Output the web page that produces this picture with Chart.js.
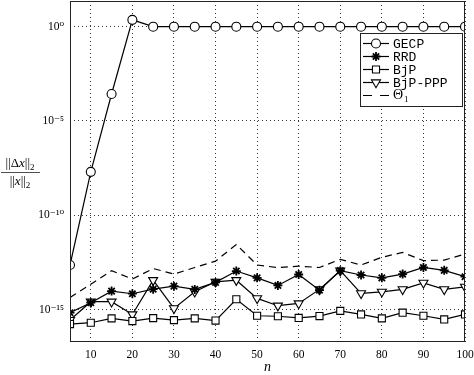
<!DOCTYPE html>
<html>
<head>
<meta charset="utf-8">
<script src="https://cdn.jsdelivr.net/npm/chart.js@4.4.1/dist/chart.umd.min.js"></script>
<style>
  html, body { margin: 0; padding: 0; background: #fff; }
  #wrap { width: 474px; height: 375px; }
</style>
</head>
<body>
<div id="wrap"><canvas id="chart" width="474" height="375"></canvas></div>
<script>
// matrix size n
const sizes = [5, 10, 15, 20, 25, 30, 35, 40, 45, 50, 55, 60, 65, 70, 75, 80, 85, 90, 95, 100];

// relative error ||dx||/||x|| per method
const gecp = [2.3e-13, 2.0e-8, 2.7e-4, 2.3, 1, 1, 1, 1, 1, 1, 1, 1, 1, 1, 1, 1, 1, 1, 1, 1];
const rrd = [6.8e-16, 2.3e-15, 9.5e-15, 6.9e-15, 1.2e-14, 1.74e-14, 1.17e-14, 2.75e-14, 1.1e-13, 4.8e-14,
             1.9e-14, 7.2e-14, 1.07e-14, 1.15e-13, 6.8e-14, 4.8e-14, 7.6e-14, 1.7e-13, 1.2e-13, 5.5e-14];
const bjp = [1.7e-16, 2.0e-16, 3.4e-16, 2.45e-16, 3.5e-16, 2.75e-16, 3.4e-16, 2.6e-16, 3.5e-15, 4.7e-16,
             4.4e-16, 3.6e-16, 4.5e-16, 8.5e-16, 5.5e-16, 3.4e-16, 6.8e-16, 4.7e-16, 3.0e-16, 5.5e-16];
const bjpPpp = [2.75e-16, 2.6e-15, 2.6e-15, 5.5e-16, 3.6e-14, 1.15e-15, 8.7e-15, 2.95e-14, 3.6e-14, 3.9e-15,
                1.6e-15, 2.1e-15, 1.17e-14, 1.15e-13, 7.2e-15, 8.7e-15, 1.17e-14, 2.6e-14, 1.17e-14, 1.6e-14];
const theta1 = [4.4e-15, 2.2e-14, 1.15e-13, 4.1e-14, 1.5e-13, 7.6e-14, 1.7e-13, 3.7e-13, 2.8e-12, 2.3e-13,
                1.66e-13, 2.0e-13, 1.7e-13, 4.6e-13, 2.3e-13, 5.9e-13, 1.07e-12, 3.9e-13, 4.2e-13, 8.7e-13];

const xTicks = [10, 20, 30, 40, 50, 60, 70, 80, 90, 100];
const yTicks = [1e-15, 1e-10, 1e-5, 1];
const yTickLabels = ['10\u207B\u00B9\u2075', '10\u207B\u00B9\u2070', '10\u207B\u2075', '10\u2070'];

const SERIF = '"Liberation Serif", "DejaVu Serif", serif';
const MONO = '"Liberation Mono", "DejaVu Sans Mono", monospace';

const pts = (arr) => sizes.map((n, i) => ({ x: n, y: arr[i] }));

function series(label, arr, style, radius, extra) {
    return Object.assign({
        label,
        data: pts(arr),
        borderColor: '#000',
        borderWidth: 1.2,
        pointStyle: style,
        pointRadius: radius,
        pointBorderColor: '#000',
        pointBackgroundColor: '#fff',
        pointBorderWidth: 1.1,
        tension: 0,
        fill: false
    }, extra || {});
}

// no extra room for the overflowing tick labels, the plot box is fixed
function noPad(s) {
    s.paddingTop = 0;
    s.paddingBottom = 0;
    s.paddingLeft = 0;
    s.paddingRight = 0;
}

// frame, y-axis fraction label, x title and legend box
const decor = {
    id: 'decor',
    afterDraw(chart) {
        const { ctx, chartArea: a } = chart;
        ctx.save();
        ctx.strokeStyle = '#222';
        ctx.lineWidth = 1;
        ctx.setLineDash([]);
        ctx.strokeRect(a.left + 0.5, a.top + 0.5, a.right - a.left - 1, a.bottom - a.top - 1);

        // x title
        ctx.fillStyle = '#000';
        ctx.font = 'italic 14px ' + SERIF;
        ctx.textAlign = 'center';
        ctx.textBaseline = 'middle';
        ctx.fillText('n', (a.left + a.right) / 2, 367);

        // y title as a fraction
        const cx = 20;
        const fontOf = (k) => k === 'i' ? 'italic 13px ' + SERIF : (k === 's' ? '9px ' + SERIF : '13px ' + SERIF);
        const drawParts = (parts, baseY) => {
            let w = 0;
            parts.forEach(p => { ctx.font = fontOf(p[1]); w += ctx.measureText(p[0]).width; });
            let x = cx - w / 2;
            ctx.textAlign = 'left';
            ctx.textBaseline = 'alphabetic';
            parts.forEach(p => {
                ctx.font = fontOf(p[1]);
                ctx.fillText(p[0], x, p[1] === 's' ? baseY + 3 : baseY);
                x += ctx.measureText(p[0]).width;
            });
        };
        drawParts([['||\u0394', 'n'], ['x', 'i'], ['||', 'n'], ['2', 's']], 167);
        ctx.beginPath();
        ctx.moveTo(1, 172.5);
        ctx.lineTo(40, 172.5);
        ctx.lineWidth = 0.8;
        ctx.stroke();
        drawParts([['||', 'n'], ['x', 'i'], ['||', 'n'], ['2', 's']], 185);

        // legend
        const bx = 360, by = 33, bw = 102, bh = 73;
        ctx.fillStyle = '#fff';
        ctx.fillRect(bx, by, bw, bh);
        ctx.lineWidth = 1;
        ctx.strokeStyle = '#222';
        ctx.strokeRect(bx + 0.5, by + 0.5, bw, bh);
        chart.data.datasets.forEach((ds, i) => {
            const y = by + 10.5 + i * 13;
            ctx.strokeStyle = '#000';
            ctx.lineWidth = 1.2;
            ctx.setLineDash(ds.borderDash ? [9, 8] : []);
            ctx.beginPath();
            ctx.moveTo(bx + 3, y);
            ctx.lineTo(bx + 29, y);
            ctx.stroke();
            ctx.setLineDash([]);
            if (ds.pointRadius > 0) {
                ctx.fillStyle = '#fff';
                ctx.strokeStyle = '#000';
                ctx.lineWidth = ds.pointBorderWidth;
                Chart.helpers.drawPoint(ctx, {
                    pointStyle: ds.pointStyle,
                    rotation: ds.pointRotation || 0,
                    radius: ds.pointRadius,
                    borderWidth: ds.pointBorderWidth
                }, bx + 16, y);
            }
            ctx.fillStyle = '#000';
            ctx.textAlign = 'left';
            ctx.textBaseline = 'middle';
            if (ds.label === 'Θ1') {
                ctx.font = '14px ' + SERIF;
                ctx.fillText('\u0398', bx + 33, y);
                const w = ctx.measureText('\u0398').width;
                ctx.font = '9px ' + SERIF;
                ctx.fillText('1', bx + 33 + w + 1, y + 4);
            } else {
                ctx.font = '13px ' + MONO;
                ctx.fillText(ds.label, bx + 33, y + 1);
            }
        });
        ctx.restore();
    }
};

new Chart(document.getElementById('chart'), {
    type: 'line',
    data: {
        datasets: [
            series('GECP', gecp, 'circle', 4.5),
            series('RRD', rrd, 'star', 4.5, { pointBorderWidth: 1.8 }),
            series('BjP', bjp, 'rect', 5),
            series('BjP-PPP', bjpPpp, 'triangle', 5.2, { pointRotation: 180 }),
            series('Θ1', theta1, 'line', 0, { borderDash: [7, 5], pointRadius: 0 })
        ]
    },
    options: {
        responsive: false,
        animation: false,
        layout: { autoPadding: false, padding: { top: 1, right: 9, left: 0, bottom: 0 } },
        plugins: {
            legend: { display: false },
            tooltip: { enabled: false }
        },
        scales: {
            x: {
                type: 'linear',
                min: 5,
                max: 100,
                afterBuildTicks: (s) => { s.ticks = xTicks.map(v => ({ value: v })); },
                afterFit: (s) => { s.height = 33; noPad(s); },
                ticks: {
                    color: '#000',
                    padding: 6,
                    maxRotation: 0,
                    font: { family: SERIF, size: 11.5 },
                    callback: (v) => String(v)
                },
                grid: { color: '#333', lineWidth: 1, drawTicks: false },
                border: { display: false, dash: [1, 3] }
            },
            y: {
                type: 'logarithmic',
                min: 1.9e-17,
                max: 23,
                afterBuildTicks: (s) => { s.ticks = yTicks.map(v => ({ value: v })); },
                afterFit: (s) => { s.width = 70; noPad(s); },
                ticks: {
                    color: '#000',
                    padding: 6,
                    font: { family: SERIF, size: 11.5 },
                    callback: (v) => {
                        const i = yTicks.indexOf(v);
                        return i >= 0 ? yTickLabels[i] : '';
                    }
                },
                grid: { color: '#333', lineWidth: 1, drawTicks: false },
                border: { display: false, dash: [1, 3] }
            }
        }
    },
    plugins: [decor]
});
</script>
</body>
</html>
